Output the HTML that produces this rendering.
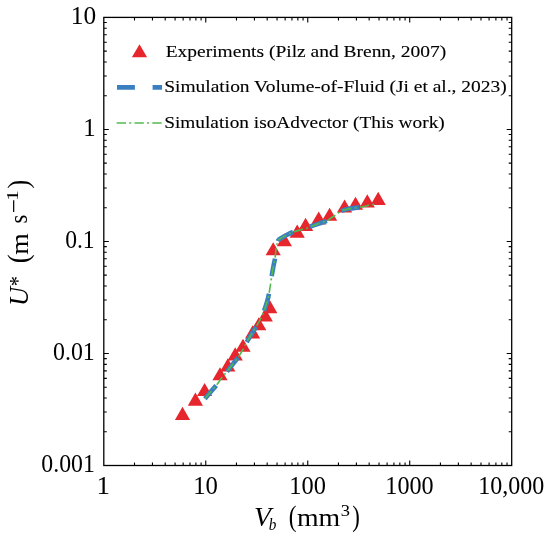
<!DOCTYPE html>
<html><head><meta charset="utf-8"><style>
html,body{margin:0;padding:0;background:#fff;width:550px;height:541px;overflow:hidden}
svg{display:block;will-change:transform}
text{font-family:"Liberation Serif",serif;fill:#000}
.lg{stroke:#000;stroke-width:0.12px}
</style></head><body>
<svg width="550" height="541" viewBox="0 0 550 541">
<rect x="103.8" y="17.4" width="407.90" height="448.10" fill="none" stroke="#000" stroke-width="1.3"/>
<path d="M134.50 465.5v-3.0M134.50 17.4v3.0M152.45 465.5v-3.0M152.45 17.4v3.0M165.20 465.5v-3.0M165.20 17.4v3.0M175.08 465.5v-3.0M175.08 17.4v3.0M183.15 465.5v-3.0M183.15 17.4v3.0M189.98 465.5v-3.0M189.98 17.4v3.0M195.89 465.5v-3.0M195.89 17.4v3.0M201.11 465.5v-3.0M201.11 17.4v3.0M205.77 465.5v-5.0M205.77 17.4v5.0M236.47 465.5v-3.0M236.47 17.4v3.0M254.43 465.5v-3.0M254.43 17.4v3.0M267.17 465.5v-3.0M267.17 17.4v3.0M277.05 465.5v-3.0M277.05 17.4v3.0M285.13 465.5v-3.0M285.13 17.4v3.0M291.95 465.5v-3.0M291.95 17.4v3.0M297.87 465.5v-3.0M297.87 17.4v3.0M303.08 465.5v-3.0M303.08 17.4v3.0M307.75 465.5v-5.0M307.75 17.4v5.0M338.45 465.5v-3.0M338.45 17.4v3.0M356.40 465.5v-3.0M356.40 17.4v3.0M369.15 465.5v-3.0M369.15 17.4v3.0M379.03 465.5v-3.0M379.03 17.4v3.0M387.10 465.5v-3.0M387.10 17.4v3.0M393.93 465.5v-3.0M393.93 17.4v3.0M399.84 465.5v-3.0M399.84 17.4v3.0M405.06 465.5v-3.0M405.06 17.4v3.0M409.72 465.5v-5.0M409.72 17.4v5.0M440.42 465.5v-3.0M440.42 17.4v3.0M458.38 465.5v-3.0M458.38 17.4v3.0M471.12 465.5v-3.0M471.12 17.4v3.0M481.00 465.5v-3.0M481.00 17.4v3.0M489.08 465.5v-3.0M489.08 17.4v3.0M495.90 465.5v-3.0M495.90 17.4v3.0M501.82 465.5v-3.0M501.82 17.4v3.0M507.03 465.5v-3.0M507.03 17.4v3.0M103.8 431.78h3.0M511.7 431.78h-3.0M103.8 412.05h3.0M511.7 412.05h-3.0M103.8 398.05h3.0M511.7 398.05h-3.0M103.8 387.20h3.0M511.7 387.20h-3.0M103.8 378.33h3.0M511.7 378.33h-3.0M103.8 370.83h3.0M511.7 370.83h-3.0M103.8 364.33h3.0M511.7 364.33h-3.0M103.8 358.60h3.0M511.7 358.60h-3.0M103.8 353.48h5.0M511.7 353.48h-5.0M103.8 319.75h3.0M511.7 319.75h-3.0M103.8 300.03h3.0M511.7 300.03h-3.0M103.8 286.03h3.0M511.7 286.03h-3.0M103.8 275.17h3.0M511.7 275.17h-3.0M103.8 266.30h3.0M511.7 266.30h-3.0M103.8 258.80h3.0M511.7 258.80h-3.0M103.8 252.31h3.0M511.7 252.31h-3.0M103.8 246.58h3.0M511.7 246.58h-3.0M103.8 241.45h5.0M511.7 241.45h-5.0M103.8 207.73h3.0M511.7 207.73h-3.0M103.8 188.00h3.0M511.7 188.00h-3.0M103.8 174.00h3.0M511.7 174.00h-3.0M103.8 163.15h3.0M511.7 163.15h-3.0M103.8 154.28h3.0M511.7 154.28h-3.0M103.8 146.78h3.0M511.7 146.78h-3.0M103.8 140.28h3.0M511.7 140.28h-3.0M103.8 134.55h3.0M511.7 134.55h-3.0M103.8 129.43h5.0M511.7 129.43h-5.0M103.8 95.70h3.0M511.7 95.70h-3.0M103.8 75.98h3.0M511.7 75.98h-3.0M103.8 61.98h3.0M511.7 61.98h-3.0M103.8 51.12h3.0M511.7 51.12h-3.0M103.8 42.25h3.0M511.7 42.25h-3.0M103.8 34.75h3.0M511.7 34.75h-3.0M103.8 28.26h3.0M511.7 28.26h-3.0M103.8 22.53h3.0M511.7 22.53h-3.0" stroke="#000" stroke-width="1.1" fill="none"/>
<text transform="translate(70.86 23.50) scale(1.0400 1.0000)" font-size="24.4">10</text>
<text transform="translate(83.22 135.53) scale(1.0118 1.0000)" font-size="24.4">1</text>
<text transform="translate(65.13 247.55) scale(0.9679 1.0000)" font-size="24.4">0.1</text>
<text transform="translate(53.02 359.58) scale(0.9789 1.0000)" font-size="24.4">0.01</text>
<text transform="translate(41.32 471.60) scale(0.9752 1.0000)" font-size="24.4">0.001</text>
<text transform="translate(96.41 493.90) scale(1.1059 1.0000)" font-size="24.4">1</text>
<text transform="translate(193.22 493.90) scale(1.0141 1.0000)" font-size="24.4">10</text>
<text transform="translate(289.25 493.90) scale(1.0000 1.0000)" font-size="24.4">100</text>
<text transform="translate(385.37 493.90) scale(0.9902 1.0000)" font-size="24.4">1000</text>
<text transform="translate(478.29 493.90) scale(0.9844 1.0000)" font-size="24.4">10,000</text>
<text class="lg" transform="translate(165.73 57.20) scale(1.1323 1.0000)" font-size="17.2">Experiments (Pilz and Brenn, 2007)</text>
<text class="lg" transform="translate(164.18 92.30) scale(1.1325 1.0000)" font-size="17.2">Simulation Volume-of-Fluid (Ji et al., 2023)</text>
<text class="lg" transform="translate(164.20 127.50) scale(1.1237 1.0000)" font-size="17.2">Simulation isoAdvector (This work)</text>
<text transform="translate(253.95 525.79) scale(1.0343 1.0222)" font-size="27"><tspan font-style="italic">V</tspan></text>
<text transform="translate(268.83 529.50) scale(0.8966 1.0383)" font-size="17"><tspan font-style="italic">b</tspan></text>
<text transform="translate(288.73 526.36) scale(0.8593 1.0792)" font-size="27">(</text>
<text transform="translate(296.96 525.80) scale(1.0709 0.9959)" font-size="26">mm</text>
<text transform="translate(340.79 516.30) scale(1.0857 1.0091)" font-size="17">3</text>
<text transform="translate(352.37 526.35) scale(0.8429 1.1000)" font-size="27">)</text>
<g transform="translate(27.9 303.6) rotate(-90)"><text transform="translate(-2.45 0.35) scale(0.9784 0.9944)" font-size="27"><tspan font-style="italic">U</tspan></text><text transform="translate(17.47 -3.25) scale(1.1286 1.3231)" font-size="18">*</text><text transform="translate(40.46 0.36) scale(0.9926 1.0792)" font-size="27">(</text><text transform="translate(48.97 0.00) scale(1.0649 0.9633)" font-size="26">m</text><text transform="translate(80.04 -0.74) scale(0.8606 0.9440)" font-size="26">s</text><text transform="translate(90.39 -6.35) scale(1.4750 1.4667)" font-size="17">−</text><text transform="translate(102.58 -9.90) scale(1.2833 1.0273)" font-size="17">1</text><text transform="translate(115.07 0.12) scale(0.9714 1.0875)" font-size="27">)</text></g>
<path d="M182.50 406.85L190.10 419.95L174.90 419.95ZM195.40 392.55L203.00 405.65L187.80 405.65ZM204.60 382.95L212.20 396.05L197.00 396.05ZM220.00 367.25L227.60 380.35L212.40 380.35ZM227.80 358.35L235.40 371.45L220.20 371.45ZM235.20 347.35L242.80 360.45L227.60 360.45ZM243.00 338.65L250.60 351.75L235.40 351.75ZM252.60 325.35L260.20 338.45L245.00 338.45ZM258.80 317.25L266.40 330.35L251.20 330.35ZM265.30 308.45L272.90 321.55L257.70 321.55ZM269.80 300.05L277.40 313.15L262.20 313.15ZM273.20 242.25L280.80 255.35L265.60 255.35ZM284.40 233.25L292.00 246.35L276.80 246.35ZM297.20 224.55L304.80 237.65L289.60 237.65ZM305.60 217.85L313.20 230.95L298.00 230.95ZM318.70 211.45L326.30 224.55L311.10 224.55ZM329.60 207.75L337.20 220.85L322.00 220.85ZM344.60 199.45L352.20 212.55L337.00 212.55ZM355.50 196.75L363.10 209.85L347.90 209.85ZM367.30 194.35L374.90 207.45L359.70 207.45ZM378.20 191.85L385.80 204.95L370.60 204.95Z" fill="#e6262c"/>
<path d="M204.9 398.8C205.92 397.58 208.98 393.88 211 391.5C213.02 389.12 215.17 386.83 217 384.5C218.83 382.17 220.33 379.67 222 377.5C223.67 375.33 225.25 373.67 227 371.5C228.75 369.33 230.67 366.83 232.5 364.5C234.33 362.17 236.25 360.00 238 357.5C239.75 355.00 241.63 351.92 243 349.5C244.37 347.08 244.87 345.42 246.2 343C247.53 340.58 249.43 337.58 251 335C252.57 332.42 254.02 330.17 255.6 327.5C257.18 324.83 259.10 321.75 260.5 319C261.90 316.25 262.92 313.83 264 311C265.08 308.17 266.17 304.92 267 302C267.83 299.08 268.42 296.42 269 293.5C269.58 290.58 270.03 287.50 270.5 284.5C270.97 281.50 271.33 278.42 271.8 275.5C272.27 272.58 272.77 269.83 273.3 267C273.83 264.17 274.55 261.42 275 258.5C275.45 255.58 275.62 252.08 276 249.5C276.38 246.92 276.80 244.67 277.3 243C277.80 241.33 277.72 240.67 279 239.5C280.28 238.33 282.67 237.25 285 236C287.33 234.75 290.33 233.03 293 232C295.67 230.97 298.70 230.42 301 229.8C303.30 229.18 305.22 228.85 306.8 228.3C308.38 227.75 308.47 227.28 310.5 226.5C312.53 225.72 316.25 224.57 319 223.6C321.75 222.63 325.00 221.63 327 220.7C329.00 219.77 329.67 218.87 331 218C332.33 217.13 333.67 216.38 335 215.5C336.33 214.62 337.67 213.57 339 212.7C340.33 211.83 341.17 210.98 343 210.3C344.83 209.62 347.17 209.12 350 208.6C352.83 208.08 356.83 207.75 360 207.2C363.17 206.65 366.58 205.80 369 205.3C371.42 204.80 373.58 204.38 374.5 204.2" fill="none" stroke="#3a80c0" stroke-width="4.6" stroke-dasharray="17.82 17.82" stroke-dashoffset="0.45" stroke-linejoin="round"/>
<path d="M204.9 398.8C205.92 397.58 208.98 393.88 211 391.5C213.02 389.12 215.17 386.83 217 384.5C218.83 382.17 220.33 379.67 222 377.5C223.67 375.33 225.25 373.67 227 371.5C228.75 369.33 230.67 366.83 232.5 364.5C234.33 362.17 236.25 360.00 238 357.5C239.75 355.00 241.63 351.92 243 349.5C244.37 347.08 244.87 345.42 246.2 343C247.53 340.58 249.43 337.58 251 335C252.57 332.42 254.02 330.17 255.6 327.5C257.18 324.83 259.10 321.75 260.5 319C261.90 316.25 262.92 313.83 264 311C265.08 308.17 266.17 304.92 267 302C267.83 299.08 268.42 296.42 269 293.5C269.58 290.58 270.03 287.50 270.5 284.5C270.97 281.50 271.33 278.42 271.8 275.5C272.27 272.58 272.77 269.83 273.3 267C273.83 264.17 274.55 261.42 275 258.5C275.45 255.58 275.62 252.08 276 249.5C276.38 246.92 276.80 244.67 277.3 243C277.80 241.33 277.72 240.67 279 239.5C280.28 238.33 282.67 237.25 285 236C287.33 234.75 290.33 233.03 293 232C295.67 230.97 298.70 230.42 301 229.8C303.30 229.18 305.22 228.85 306.8 228.3C308.38 227.75 308.47 227.28 310.5 226.5C312.53 225.72 316.25 224.57 319 223.6C321.75 222.63 325.00 221.63 327 220.7C329.00 219.77 329.67 218.87 331 218C332.33 217.13 333.67 216.38 335 215.5C336.33 214.62 337.67 213.57 339 212.7C340.33 211.83 341.17 210.98 343 210.3C344.83 209.62 347.17 209.12 350 208.6C352.83 208.08 356.83 207.75 360 207.2C363.17 206.65 366.58 205.80 369 205.3C371.42 204.80 373.58 204.38 374.5 204.2" fill="none" stroke="#52b94f" stroke-width="1.6" stroke-dasharray="9.3 3.26 2 3.26" stroke-dashoffset="-0.54" stroke-linejoin="round"/>
<path d="M139.50 44.15L147.10 57.25L131.90 57.25Z" fill="#e6262c"/>
<path d="M117 87.4H162" stroke="#3a80c0" stroke-width="4.6" stroke-dasharray="17.9 17.7"/>
<path d="M116.7 123H161.7" stroke="#52b94f" stroke-width="1.6" stroke-dasharray="9.3 3.26 2 3.26"/>
</svg>
</body></html>
